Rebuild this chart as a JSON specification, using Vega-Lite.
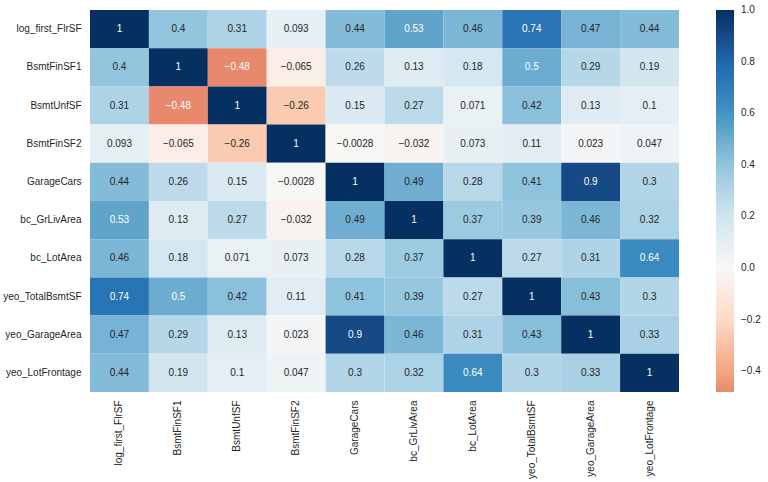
{
  "$schema": "https://vega.github.io/schema/vega-lite/v6.json",
  "width": 589,
  "height": 382,
  "autosize": {"type": "none"},
  "padding": {"left": 90, "top": 10, "right": 89, "bottom": 90},
  "background": "white",
  "config": {
    "font": "Liberation Sans",
    "view": {"stroke": null},
    "axis": {"labelFont": "Liberation Sans", "labelColor": "#262626", "labelFontSize": 10, "domain": false, "ticks": false, "grid": false, "title": null}
  },
  "data": {
    "values": [
      {"row": "log_first_FlrSF", "col": "log_first_FlrSF", "v": 1},
      {"row": "log_first_FlrSF", "col": "BsmtFinSF1", "v": 0.4},
      {"row": "log_first_FlrSF", "col": "BsmtUnfSF", "v": 0.31},
      {"row": "log_first_FlrSF", "col": "BsmtFinSF2", "v": 0.093},
      {"row": "log_first_FlrSF", "col": "GarageCars", "v": 0.44},
      {"row": "log_first_FlrSF", "col": "bc_GrLivArea", "v": 0.53},
      {"row": "log_first_FlrSF", "col": "bc_LotArea", "v": 0.46},
      {"row": "log_first_FlrSF", "col": "yeo_TotalBsmtSF", "v": 0.74},
      {"row": "log_first_FlrSF", "col": "yeo_GarageArea", "v": 0.47},
      {"row": "log_first_FlrSF", "col": "yeo_LotFrontage", "v": 0.44},

      {"row": "BsmtFinSF1", "col": "log_first_FlrSF", "v": 0.4},
      {"row": "BsmtFinSF1", "col": "BsmtFinSF1", "v": 1},
      {"row": "BsmtFinSF1", "col": "BsmtUnfSF", "v": -0.48},
      {"row": "BsmtFinSF1", "col": "BsmtFinSF2", "v": -0.065},
      {"row": "BsmtFinSF1", "col": "GarageCars", "v": 0.26},
      {"row": "BsmtFinSF1", "col": "bc_GrLivArea", "v": 0.13},
      {"row": "BsmtFinSF1", "col": "bc_LotArea", "v": 0.18},
      {"row": "BsmtFinSF1", "col": "yeo_TotalBsmtSF", "v": 0.5},
      {"row": "BsmtFinSF1", "col": "yeo_GarageArea", "v": 0.29},
      {"row": "BsmtFinSF1", "col": "yeo_LotFrontage", "v": 0.19},

      {"row": "BsmtUnfSF", "col": "log_first_FlrSF", "v": 0.31},
      {"row": "BsmtUnfSF", "col": "BsmtFinSF1", "v": -0.48},
      {"row": "BsmtUnfSF", "col": "BsmtUnfSF", "v": 1},
      {"row": "BsmtUnfSF", "col": "BsmtFinSF2", "v": -0.26},
      {"row": "BsmtUnfSF", "col": "GarageCars", "v": 0.15},
      {"row": "BsmtUnfSF", "col": "bc_GrLivArea", "v": 0.27},
      {"row": "BsmtUnfSF", "col": "bc_LotArea", "v": 0.071},
      {"row": "BsmtUnfSF", "col": "yeo_TotalBsmtSF", "v": 0.42},
      {"row": "BsmtUnfSF", "col": "yeo_GarageArea", "v": 0.13},
      {"row": "BsmtUnfSF", "col": "yeo_LotFrontage", "v": 0.1},

      {"row": "BsmtFinSF2", "col": "log_first_FlrSF", "v": 0.093},
      {"row": "BsmtFinSF2", "col": "BsmtFinSF1", "v": -0.065},
      {"row": "BsmtFinSF2", "col": "BsmtUnfSF", "v": -0.26},
      {"row": "BsmtFinSF2", "col": "BsmtFinSF2", "v": 1},
      {"row": "BsmtFinSF2", "col": "GarageCars", "v": -0.0028},
      {"row": "BsmtFinSF2", "col": "bc_GrLivArea", "v": -0.032},
      {"row": "BsmtFinSF2", "col": "bc_LotArea", "v": 0.073},
      {"row": "BsmtFinSF2", "col": "yeo_TotalBsmtSF", "v": 0.11},
      {"row": "BsmtFinSF2", "col": "yeo_GarageArea", "v": 0.023},
      {"row": "BsmtFinSF2", "col": "yeo_LotFrontage", "v": 0.047},

      {"row": "GarageCars", "col": "log_first_FlrSF", "v": 0.44},
      {"row": "GarageCars", "col": "BsmtFinSF1", "v": 0.26},
      {"row": "GarageCars", "col": "BsmtUnfSF", "v": 0.15},
      {"row": "GarageCars", "col": "BsmtFinSF2", "v": -0.0028},
      {"row": "GarageCars", "col": "GarageCars", "v": 1},
      {"row": "GarageCars", "col": "bc_GrLivArea", "v": 0.49},
      {"row": "GarageCars", "col": "bc_LotArea", "v": 0.28},
      {"row": "GarageCars", "col": "yeo_TotalBsmtSF", "v": 0.41},
      {"row": "GarageCars", "col": "yeo_GarageArea", "v": 0.9},
      {"row": "GarageCars", "col": "yeo_LotFrontage", "v": 0.3},

      {"row": "bc_GrLivArea", "col": "log_first_FlrSF", "v": 0.53},
      {"row": "bc_GrLivArea", "col": "BsmtFinSF1", "v": 0.13},
      {"row": "bc_GrLivArea", "col": "BsmtUnfSF", "v": 0.27},
      {"row": "bc_GrLivArea", "col": "BsmtFinSF2", "v": -0.032},
      {"row": "bc_GrLivArea", "col": "GarageCars", "v": 0.49},
      {"row": "bc_GrLivArea", "col": "bc_GrLivArea", "v": 1},
      {"row": "bc_GrLivArea", "col": "bc_LotArea", "v": 0.37},
      {"row": "bc_GrLivArea", "col": "yeo_TotalBsmtSF", "v": 0.39},
      {"row": "bc_GrLivArea", "col": "yeo_GarageArea", "v": 0.46},
      {"row": "bc_GrLivArea", "col": "yeo_LotFrontage", "v": 0.32},

      {"row": "bc_LotArea", "col": "log_first_FlrSF", "v": 0.46},
      {"row": "bc_LotArea", "col": "BsmtFinSF1", "v": 0.18},
      {"row": "bc_LotArea", "col": "BsmtUnfSF", "v": 0.071},
      {"row": "bc_LotArea", "col": "BsmtFinSF2", "v": 0.073},
      {"row": "bc_LotArea", "col": "GarageCars", "v": 0.28},
      {"row": "bc_LotArea", "col": "bc_GrLivArea", "v": 0.37},
      {"row": "bc_LotArea", "col": "bc_LotArea", "v": 1},
      {"row": "bc_LotArea", "col": "yeo_TotalBsmtSF", "v": 0.27},
      {"row": "bc_LotArea", "col": "yeo_GarageArea", "v": 0.31},
      {"row": "bc_LotArea", "col": "yeo_LotFrontage", "v": 0.64},

      {"row": "yeo_TotalBsmtSF", "col": "log_first_FlrSF", "v": 0.74},
      {"row": "yeo_TotalBsmtSF", "col": "BsmtFinSF1", "v": 0.5},
      {"row": "yeo_TotalBsmtSF", "col": "BsmtUnfSF", "v": 0.42},
      {"row": "yeo_TotalBsmtSF", "col": "BsmtFinSF2", "v": 0.11},
      {"row": "yeo_TotalBsmtSF", "col": "GarageCars", "v": 0.41},
      {"row": "yeo_TotalBsmtSF", "col": "bc_GrLivArea", "v": 0.39},
      {"row": "yeo_TotalBsmtSF", "col": "bc_LotArea", "v": 0.27},
      {"row": "yeo_TotalBsmtSF", "col": "yeo_TotalBsmtSF", "v": 1},
      {"row": "yeo_TotalBsmtSF", "col": "yeo_GarageArea", "v": 0.43},
      {"row": "yeo_TotalBsmtSF", "col": "yeo_LotFrontage", "v": 0.3},

      {"row": "yeo_GarageArea", "col": "log_first_FlrSF", "v": 0.47},
      {"row": "yeo_GarageArea", "col": "BsmtFinSF1", "v": 0.29},
      {"row": "yeo_GarageArea", "col": "BsmtUnfSF", "v": 0.13},
      {"row": "yeo_GarageArea", "col": "BsmtFinSF2", "v": 0.023},
      {"row": "yeo_GarageArea", "col": "GarageCars", "v": 0.9},
      {"row": "yeo_GarageArea", "col": "bc_GrLivArea", "v": 0.46},
      {"row": "yeo_GarageArea", "col": "bc_LotArea", "v": 0.31},
      {"row": "yeo_GarageArea", "col": "yeo_TotalBsmtSF", "v": 0.43},
      {"row": "yeo_GarageArea", "col": "yeo_GarageArea", "v": 1},
      {"row": "yeo_GarageArea", "col": "yeo_LotFrontage", "v": 0.33},

      {"row": "yeo_LotFrontage", "col": "log_first_FlrSF", "v": 0.44},
      {"row": "yeo_LotFrontage", "col": "BsmtFinSF1", "v": 0.19},
      {"row": "yeo_LotFrontage", "col": "BsmtUnfSF", "v": 0.1},
      {"row": "yeo_LotFrontage", "col": "BsmtFinSF2", "v": 0.047},
      {"row": "yeo_LotFrontage", "col": "GarageCars", "v": 0.3},
      {"row": "yeo_LotFrontage", "col": "bc_GrLivArea", "v": 0.32},
      {"row": "yeo_LotFrontage", "col": "bc_LotArea", "v": 0.64},
      {"row": "yeo_LotFrontage", "col": "yeo_TotalBsmtSF", "v": 0.3},
      {"row": "yeo_LotFrontage", "col": "yeo_GarageArea", "v": 0.33},
      {"row": "yeo_LotFrontage", "col": "yeo_LotFrontage", "v": 1}
    ]
  },
  "encoding": {
    "x": {
      "field": "col", "type": "nominal",
      "sort": ["log_first_FlrSF", "BsmtFinSF1", "BsmtUnfSF", "BsmtFinSF2", "GarageCars", "bc_GrLivArea", "bc_LotArea", "yeo_TotalBsmtSF", "yeo_GarageArea", "yeo_LotFrontage"],
      "scale": {"paddingInner": 0, "paddingOuter": 0},
      "axis": {"orient": "bottom", "labelAngle": -90, "labelPadding": 8}
    },
    "y": {
      "field": "row", "type": "nominal",
      "sort": ["log_first_FlrSF", "BsmtFinSF1", "BsmtUnfSF", "BsmtFinSF2", "GarageCars", "bc_GrLivArea", "bc_LotArea", "yeo_TotalBsmtSF", "yeo_GarageArea", "yeo_LotFrontage"],
      "scale": {"paddingInner": 0, "paddingOuter": 0},
      "axis": {"orient": "left", "labelPadding": 9}
    }
  },
  "layer": [
    {
      "mark": {"type": "rect"},
      "encoding": {
        "color": {
          "field": "v", "type": "quantitative",
          "scale": {
            "type": "linear",
            "domain": [-0.48, -0.4, -0.2, 0, 0.2, 0.4, 0.6, 0.8, 1],
            "range": ["#e8896d", "#f4a582", "#fddbc7", "#f7f7f7", "#d1e5f0", "#92c5de", "#4393c3", "#2166ac", "#053061"]
          },
          "legend": {
            "title": null,
            "orient": "none",
            "legendX": 626,
            "legendY": 0,
            "direction": "vertical",
            "gradientLength": 382,
            "gradientThickness": 18,
            "gradientStrokeWidth": 0,
            "values": [-0.4, -0.2, 0, 0.2, 0.4, 0.6, 0.8, 1.0],
            "format": ".1f",
            "labelFont": "Liberation Sans",
            "labelFontSize": 10,
            "labelColor": "#262626",
            "labelOffset": 7,
            "labelBaseline": "middle",
            "labelOverlap": false,
            "encode": {"labels": {"update": {"baseline": {"value": "middle"}}}}
          }
        }
      }
    },
    {
      "mark": {"type": "text", "fontSize": 10, "font": "Liberation Sans"},
      "encoding": {
        "text": {"field": "v", "type": "quantitative", "format": ".2~g"},
        "color": {
          "condition": {"test": "datum.v >= 0.5 || datum.v <= -0.4", "value": "white"},
          "value": "#262626"
        }
      }
    }
  ]
}
